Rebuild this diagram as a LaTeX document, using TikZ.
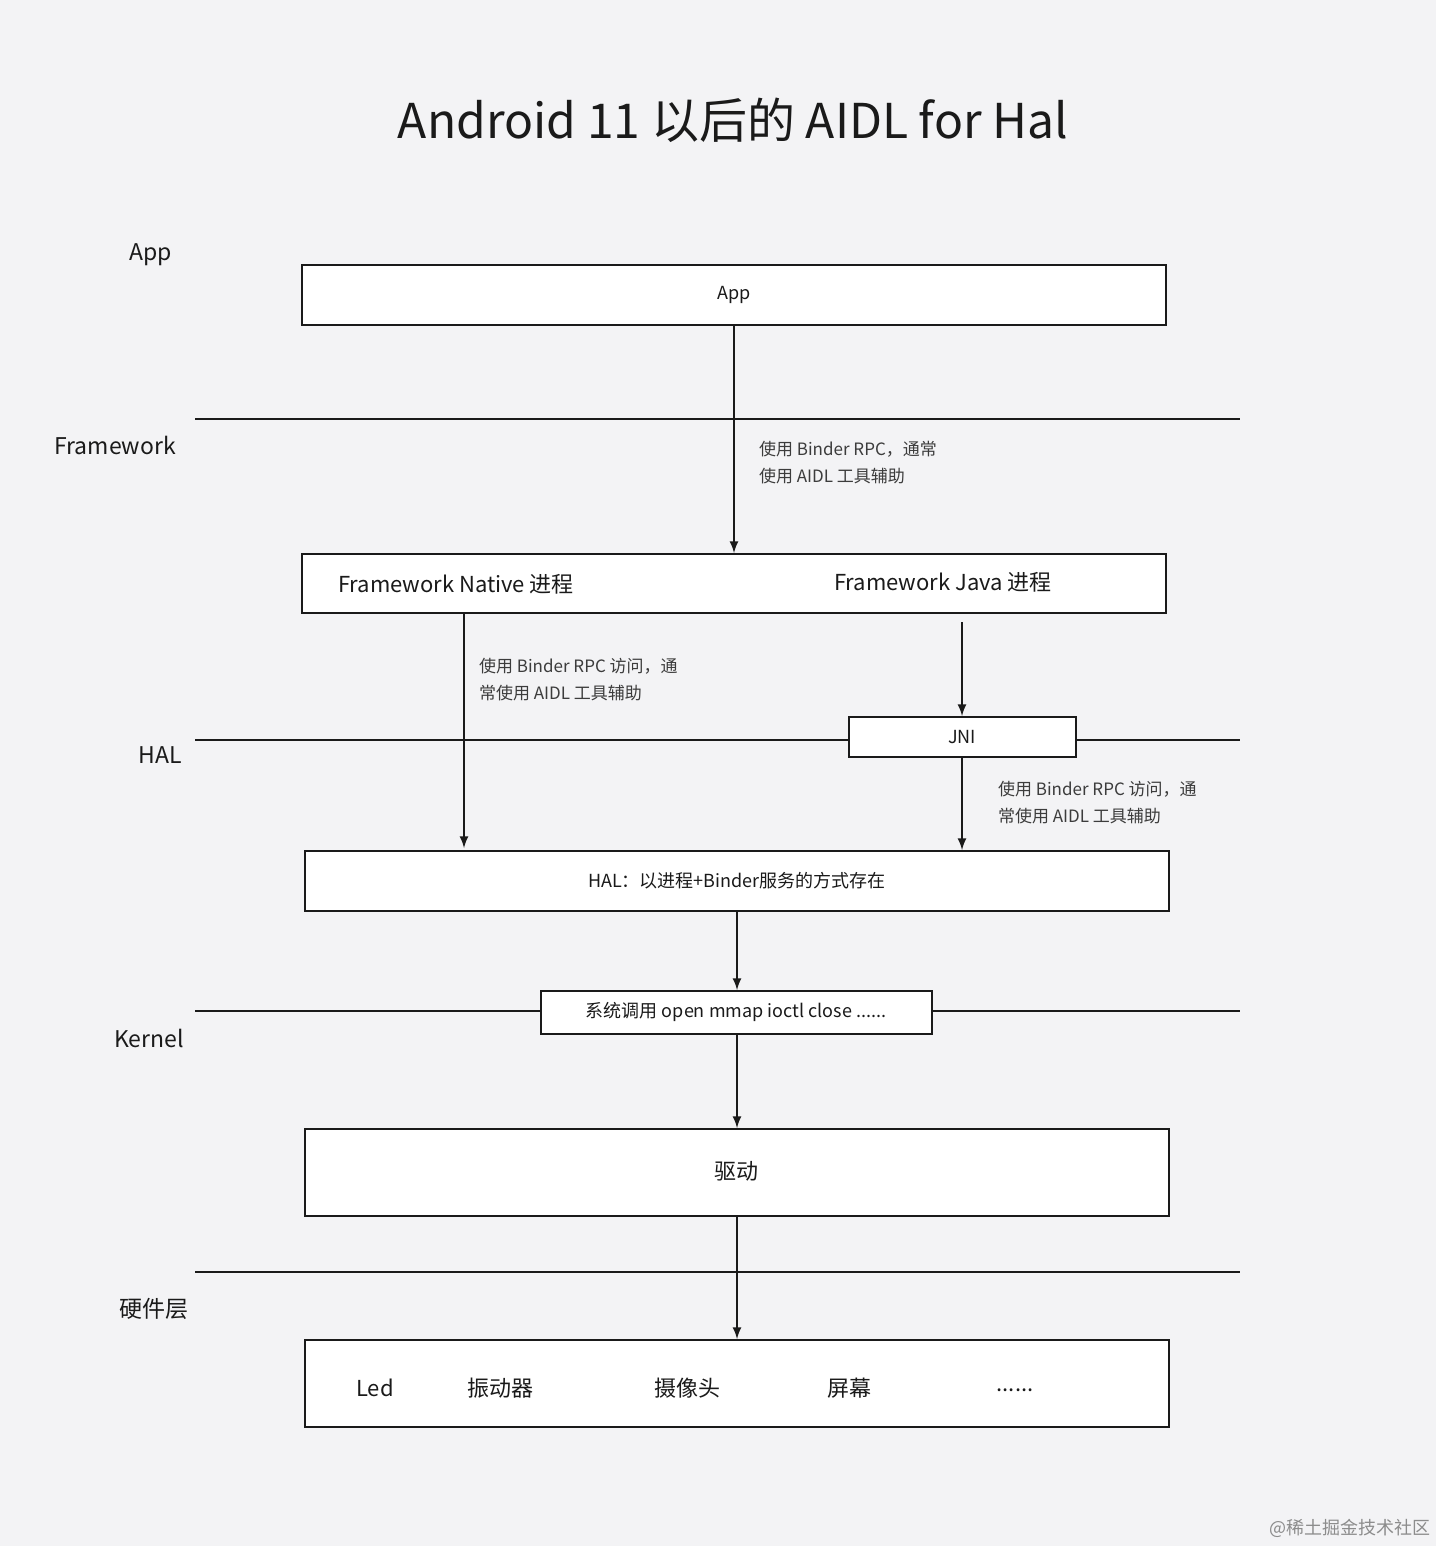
\documentclass[tikz,border=0pt]{standalone}
\usepackage{fontspec}
\setmainfont{Noto Sans CJK SC}
\definecolor{bg}{HTML}{F3F3F5}
\definecolor{ink}{HTML}{1A1A1A}
\begin{document}
\begin{tikzpicture}[x=0.5pt,y=-0.5pt,
 box/.style={draw=ink,line width=1.3pt,fill=white},
 sep/.style={draw=ink,line width=1pt},
 arr/.style={draw=ink,line width=1pt,-latex},
 side/.style={font=\fontsize{11.5}{13}\selectfont,text=ink},
 lab/.style={font=\fontsize{8.5}{13.5}\selectfont,text=ink!85,align=left,anchor=north west},
 t/.style={font=\fontsize{9}{11}\selectfont,text=ink}]
\fill[bg] (0,0) rectangle (1436,1546);
\useasboundingbox (0,0) rectangle (1436,1546);
\node[font=\fontsize{24}{30}\selectfont,text=ink] (title) at (733,120) {Android 11 以后的 AIDL for Hal};
\node[side] (lApp) at (151,255) {App};
\node[side] (lFw) at (115,445) {Framework};
\node[side] (lHal) at (160,755) {HAL};
\node[side] (lK) at (149,1038) {Kernel};
\node[side] (lHw) at (154,1309) {硬件层};
% separators
\draw[sep] (195,419) -- (1240,419);
\draw[sep] (195,740) -- (1240,740);
\draw[sep] (195,1011) -- (1240,1011);
\draw[sep] (195,1272) -- (1240,1272);
% boxes
\draw[box] (302,265) rectangle (1166,325);
\node[t] (app) at (734,295) {App};
\draw[box] (302,554) rectangle (1166,613);
\node[font=\fontsize{11}{13}\selectfont,text=ink] (fn) at (456,584) {Framework Native 进程};
\node[font=\fontsize{11}{13}\selectfont,text=ink] (fj) at (943,582) {Framework Java 进程};
\draw[box] (849,717) rectangle (1076,757);
\node[t] (jni) at (962,737) {JNI};
\draw[box] (305,851) rectangle (1169,911);
\node[t] (hal) at (737,881) {HAL：以进程+Binder服务的方式存在};
\draw[box] (541,991) rectangle (932,1034);
\node[t] (sys) at (736,1012) {系统调用 open mmap ioctl close ......};
\draw[box] (305,1129) rectangle (1169,1216);
\node[font=\fontsize{11}{13}\selectfont,text=ink] (drv) at (736,1171) {驱动};
\draw[box] (305,1340) rectangle (1169,1427);
\node[font=\fontsize{11}{13}\selectfont,text=ink] (led) at (375,1388) {Led};
\node[font=\fontsize{11}{13}\selectfont,text=ink] (vib) at (500,1388) {振动器};
\node[font=\fontsize{11}{13}\selectfont,text=ink] (cam) at (687,1388) {摄像头};
\node[font=\fontsize{11}{13}\selectfont,text=ink] (scr) at (849,1388) {屏幕};
\node[font=\fontsize{11}{13}\selectfont,text=ink] (dots) at (1015,1390) {......};
% arrows
\coordinate (a1) at (734,325); \coordinate (a2) at (734,553);
\draw[arr] (a1) -- (a2);
\coordinate (b1) at (464,613); \coordinate (b2) at (464,848);
\draw[arr] (b1) -- (b2);
\coordinate (c1) at (962,622); \coordinate (c2) at (962,716);
\draw[arr] (c1) -- (c2);
\coordinate (d1) at (962,757); \coordinate (d2) at (962,850);
\draw[arr] (d1) -- (d2);
\coordinate (e1) at (737,911); \coordinate (e2) at (737,990);
\draw[arr] (e1) -- (e2);
\coordinate (f1) at (737,1034); \coordinate (f2) at (737,1128);
\draw[arr] (f1) -- (f2);
\coordinate (g1) at (737,1216); \coordinate (g2) at (737,1339);
\draw[arr] (g1) -- (g2);
% labels
\node[lab] (l1) at (752,434) {使用 Binder RPC，通常\\使用 AIDL 工具辅助};
\node[lab] (l2) at (472,651) {使用 Binder RPC 访问，通\\常使用 AIDL 工具辅助};
\node[lab] (l3) at (991,774) {使用 Binder RPC 访问，通\\常使用 AIDL 工具辅助};
\node[font=\fontsize{9}{11}\selectfont,text=black!45] (wm) at (1350,1528) {@稀土掘金技术社区};
\end{tikzpicture}
\end{document}
